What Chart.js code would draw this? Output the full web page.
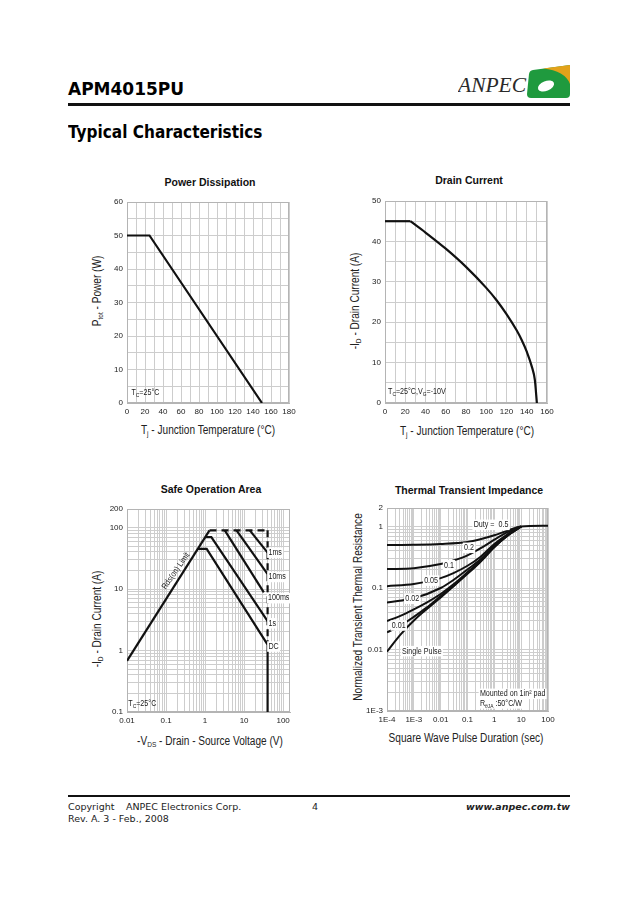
<!DOCTYPE html>
<html lang="en">
<head>
<meta charset="UTF-8">
<title>APM4015PU - Typical Characteristics</title>
<script src="https://cdn.jsdelivr.net/npm/chart.js@4"></script>
<style>
  body { margin: 0; background: #fff; }
  #page { position: relative; width: 638px; height: 903px; overflow: hidden; background: #fff; color: #111; }
  .abs { position: absolute; white-space: nowrap; line-height: 1; }
  .hdr { font-family: "DejaVu Sans", Verdana, sans-serif; font-weight: bold; font-size: 17px; color: #000; transform-origin: 0 0; }
  .rule { position: absolute; left: 68px; width: 502px; background: #111; }
  .foot { font-family: "DejaVu Sans", Verdana, sans-serif; font-size: 9.5px; color: #222; }
  .ctitle { font-family: "Liberation Sans", Arial, sans-serif; font-weight: bold; font-size: 10.5px; transform: translate(-50%, -50%); }
  .atitle, .ytitle { font-family: "Liberation Sans Narrow", "Liberation Sans", Arial, sans-serif; font-size: 12px; color: #222; }
  .atitle { transform: translate(-50%, -50%) scaleX(0.84); }
  .ytitle { transform: translate(-50%, -50%) rotate(-90deg) scaleX(0.84); }
  .atitle sub, .ytitle sub { font-size: 65%; vertical-align: baseline; position: relative; top: 0.25em; }
  canvas { position: absolute; }
</style>
</head>
<body>
<div id="page">
  <!-- header -->
  <div class="abs hdr" style="left:68px;top:81px">APM4015PU</div>
  <svg class="abs" style="left:458px;top:64px" width="112" height="36" viewBox="0 0 112 36">
    <text x="0" y="28" font-family="Liberation Serif, Times New Roman, serif" font-style="italic" font-size="21.5" fill="#2a2a2a">ANPEC</text>
    <g transform="translate(69,1)">
      <path d="M6,5 L43,0 L43,29 Q43,33 39,33 L4,33 Q0,33 0,29 L2,9 Q2.5,5.5 6,5 Z" fill="#1f9a3e"/>
      <path d="M16,3.6 L43,0 L43,19 Q38,6 16,3.6 Z" fill="#e3a21a"/>
      <ellipse cx="19" cy="21" rx="8.5" ry="4.8" transform="rotate(-22 19 21)" fill="#fff"/>
    </g>
  </svg>
  <div class="rule" style="top:103px;height:3px"></div>
  <div class="abs hdr" style="left:68px;top:124px;transform:scaleX(0.9)">Typical Characteristics</div>

  <!-- chart titles and axis titles -->
  <div class="abs ctitle" style="left:210px;top:182px">Power Dissipation</div>
  <div class="abs ctitle" style="left:469px;top:180px">Drain Current</div>
  <div class="abs ctitle" style="left:211px;top:489px">Safe Operation Area</div>
  <div class="abs ctitle" style="left:469px;top:490px">Thermal Transient Impedance</div>

  <div class="abs atitle" style="left:208px;top:430px">T<sub>j</sub> - Junction Temperature (°C)</div>
  <div class="abs atitle" style="left:467px;top:431px">T<sub>j</sub> - Junction Temperature (°C)</div>
  <div class="abs atitle" style="left:210px;top:741px">-V<sub>DS</sub> - Drain - Source Voltage (V)</div>
  <div class="abs atitle" style="left:466px;top:738px">Square Wave Pulse Duration (sec)</div>

  <div class="abs ytitle" style="left:97px;top:291px">P<sub>tot</sub> - Power (W)</div>
  <div class="abs ytitle" style="left:355px;top:301px">-I<sub>D</sub> - Drain Current (A)</div>
  <div class="abs ytitle" style="left:97px;top:619px">-I<sub>D</sub> - Drain Current (A)</div>
  <div class="abs ytitle" style="left:358px;top:607px">Normalized Transient Thermal Resistance</div>

  <canvas id="cPower" width="227" height="241" style="left:77px;top:192px"></canvas>
  <canvas id="cDrain" width="227" height="242" style="left:335px;top:191px"></canvas>
  <canvas id="cSoa" width="228" height="243" style="left:77px;top:499px"></canvas>
  <canvas id="cZth" width="226" height="243" style="left:337px;top:498px"></canvas>

  <!-- footer -->
  <div class="rule" style="top:795px;height:2px"></div>
  <div class="abs foot" style="left:68px;top:802px">Copyright</div>
  <div class="abs foot" style="left:126px;top:802px">ANPEC Electronics Corp.</div>
  <div class="abs foot" style="left:312px;top:802px">4</div>
  <div class="abs foot" style="right:68px;top:802px;font-weight:bold;font-style:italic">www.anpec.com.tw</div>
  <div class="abs foot" style="left:68px;top:814px">Rev. A. 3 - Feb., 2008</div>
</div>

<script>
// ---- data ----
// Power dissipation vs junction temperature
const powerTemp = [0, 25, 150];
const powerWatts = [50, 50, 0];
const powerXTicks = [0, 20, 40, 60, 80, 100, 120, 140, 160, 180];
const powerYTicks = [0, 10, 20, 30, 40, 50, 60];

// Drain current vs junction temperature
const drainFlatTemp = [0, 25];
const drainFlatAmps = [45, 45];
const drainTemp = [25, 40, 60, 80, 100, 110, 120, 130, 135, 140, 145, 148, 150];
const drainAmps = [45, 42.2, 38.2, 33.7, 28.5, 25.5, 22, 18, 15.6, 12.7, 9, 5.7, 0];
const drainXTicks = [0, 20, 40, 60, 80, 100, 120, 140, 160];
const drainYTicks = [0, 10, 20, 30, 40, 50];

// Safe operating area (V, A)
const soaRdsV = [0.01, 1.3];        const soaRdsI = [0.68, 90];
const soaDcV = [0.65, 1.1, 40, 40]; const soaDcI = [45, 45, 1.25, 0.1];
const soa1sV = [1.0, 1.45, 40];     const soa1sI = [70, 70, 3.0];
const soa100msV = [3.2, 32];        const soa100msI = [90, 8.8];
const soa10msV = [6.4, 40];         const soa10msI = [90, 17.5];
const soa1msV = [14, 40];           const soa1msI = [90, 39];
const soaLimitV = [1.3, 40];        const soaLimitI = [90, 90];
const soaVmaxV = [40, 40];          const soaVmaxI = [90, 1.25];
const soaXTicks = [0.01, 0.1, 1, 10, 100];
const soaXLabels = ['0.01', '0.1', '1', '10', '100'];
const soaYTicks = [0.1, 1, 10, 100, 200];
const soaYLabels = ['0.1', '1', '10', '100', '200'];

// Thermal transient impedance (s, normalized)
const zthT05 = [1e-4, 1e-3, 0.01, 0.1, 0.3, 1, 3, 10, 100];
const zth05 = [0.5, 0.505, 0.52, 0.56, 0.62, 0.72, 0.85, 1, 1.03];
const zthT02 = [1e-4, 1e-3, 0.01, 0.03, 0.1, 0.3, 1, 3, 10];
const zth02 = [0.203, 0.21, 0.245, 0.28, 0.34, 0.44, 0.61, 0.8, 1];
const zthT01 = [1e-4, 1e-3, 0.01, 0.03, 0.1, 0.3, 1, 3, 10];
const zth01 = [0.107, 0.116, 0.145, 0.175, 0.23, 0.32, 0.52, 0.74, 1];
const zthT005 = [1e-4, 1e-3, 0.01, 0.03, 0.1, 0.3, 1, 3, 10];
const zth005 = [0.058, 0.068, 0.1, 0.135, 0.2, 0.29, 0.49, 0.72, 1];
const zthT002 = [1e-4, 3e-4, 1e-3, 0.003, 0.01, 0.03, 0.1, 0.3, 1, 3, 10];
const zth002 = [0.029, 0.035, 0.045, 0.058, 0.08, 0.115, 0.18, 0.275, 0.475, 0.71, 1];
const zthT001 = [1e-4, 3e-4, 1e-3, 0.003, 0.01, 0.03, 0.1, 0.3, 1, 3, 10];
const zth001 = [0.019, 0.024, 0.034, 0.048, 0.074, 0.108, 0.175, 0.27, 0.47, 0.705, 1];
const zthTsingle = [1e-4, 3e-4, 1.2e-3, 0.01, 0.1, 0.3, 1, 3, 10];
const zthSingle = [0.0092, 0.017, 0.032, 0.07, 0.17, 0.265, 0.46, 0.7, 1];
const zthXTicks = [1e-4, 1e-3, 0.01, 0.1, 1, 10, 100];
const zthXLabels = ['1E-4', '1E-3', '0.01', '0.1', '1', '10', '100'];
const zthYTicks = [1e-3, 0.01, 0.1, 1, 2];
const zthYLabels = ['1E-3', '0.01', '0.1', '1', '2'];

// ---- drawing ----
const GRID = '#cdcdcd', FRAME = '#b4b4b4', INK = '#111';
const SANS = '"Liberation Sans", Arial, sans-serif';
const TICK_FONT = { family: SANS, size: 8 };
const SQUEEZE = 0.84; // the datasheet uses a narrow face

function pts(xs, ys) { return xs.map((x, i) => ({ x: x, y: ys[i] })); }

function line(xs, ys, extra) {
  return Object.assign({
    data: pts(xs, ys), borderColor: INK, borderWidth: 2.2,
    pointRadius: 0, fill: false, tension: 0
  }, extra || {});
}

function zeroPad(s) { s.paddingLeft = 0; s.paddingRight = 0; s.paddingTop = 0; s.paddingBottom = 0; }

function logGrid(min, max) {
  const out = [];
  for (let e = Math.floor(Math.log10(min)); e <= Math.ceil(Math.log10(max)); e++) {
    for (let m = 1; m <= 9; m++) {
      const v = Number((m * Math.pow(10, e)).toPrecision(4));
      if (v >= min * 0.999 && v <= max * 1.001) out.push(v);
    }
  }
  return out;
}

function findLabel(values, labels, v) {
  const i = values.findIndex(t => Math.abs(t - v) / t < 1e-6);
  return i >= 0 ? labels[i] : '';
}

function axis(pos, type, min, max, ticksExtra, extra) {
  return Object.assign({
    type: type, position: pos, min: min, max: max, bounds: 'data',
    grid: { color: GRID, lineWidth: 1, drawTicks: false },
    border: { color: FRAME, width: 1 },
    ticks: Object.assign({ font: TICK_FONT, color: '#222', padding: 4, autoSkip: false, maxRotation: 0, minRotation: 0 }, ticksExtra),
    afterFit: pos === 'left' ? s => { s.width = 50; zeroPad(s); } : s => { s.height = 30; zeroPad(s); }
  }, extra || {});
}

function linAxis(pos, min, max, step, shown) {
  return axis(pos, 'linear', min, max, { stepSize: step, callback: v => shown.includes(v) ? String(v) : '' });
}

function logAxis(pos, min, max, values, labels) {
  const grid = logGrid(min, max);
  return axis(pos, 'logarithmic', min, max,
    { callback: v => findLabel(values, labels, v) },
    { afterBuildTicks: s => { s.ticks = grid.map(v => ({ value: v })); } });
}

function drawRich(ctx, segs, x, y, size, align, bg, rot) {
  ctx.save();
  ctx.translate(x, y);
  if (rot) ctx.rotate(rot * Math.PI / 180);
  ctx.scale(SQUEEZE, 1);
  ctx.textBaseline = 'middle';
  const fontFor = s => (s.sub ? size * 0.68 : size) + 'px ' + SANS;
  const widths = segs.map(s => { ctx.font = fontFor(s); return ctx.measureText(s.t).width; });
  const w = widths.reduce((a, b) => a + b, 0);
  let sx = align === 'center' ? -w / 2 : 0;
  if (bg) { ctx.fillStyle = '#fff'; ctx.fillRect(sx - 1.5, -size * 0.62, w + 3, size * 1.24); }
  ctx.fillStyle = '#1a1a1a';
  segs.forEach((s, i) => {
    ctx.font = fontFor(s);
    ctx.fillText(s.t, sx, s.sub ? size * 0.3 : 0);
    sx += widths[i];
  });
  ctx.restore();
}

function makeNotes(items) {
  return {
    id: 'notes',
    afterDatasetsDraw(chart) {
      const xs = chart.scales.x, ys = chart.scales.y;
      items.forEach(it => drawRich(chart.ctx, it.segs, xs.getPixelForValue(it.x), ys.getPixelForValue(it.y),
        it.size || 8.5, it.align || 'left', it.bg, it.rot || 0));
    }
  };
}

const framePlugin = {
  id: 'frame',
  beforeDatasetsDraw(chart) {
    const a = chart.chartArea, ctx = chart.ctx;
    ctx.save();
    ctx.strokeStyle = FRAME; ctx.lineWidth = 1;
    ctx.strokeRect(Math.round(a.left) + 0.5, Math.round(a.top) + 0.5, Math.round(a.right - a.left) - 1, Math.round(a.bottom - a.top) - 1);
    ctx.restore();
  }
};

function makeChart(id, datasets, xAx, yAx, notes) {
  return new Chart(document.getElementById(id), {
    type: 'line',
    data: { datasets: datasets },
    options: {
      responsive: false, animation: false, devicePixelRatio: 1, events: [],
      layout: { padding: { top: 10, right: 15, left: 0, bottom: 0 } },
      plugins: { legend: { display: false }, tooltip: { enabled: false } },
      scales: { x: xAx, y: yAx }
    },
    plugins: [framePlugin, makeNotes(notes)]
  });
}

const TC = [{ t: 'T' }, { t: 'C', sub: 1 }, { t: '=25°C' }];

makeChart('cPower',
  [line(powerTemp, powerWatts)],
  linAxis('bottom', 0, 180, 10, powerXTicks),
  linAxis('left', 0, 60, 5, powerYTicks),
  [{ x: 5, y: 3.1, segs: TC }]);

makeChart('cDrain',
  [line(drainFlatTemp, drainFlatAmps), line(drainTemp, drainAmps, { cubicInterpolationMode: 'monotone' })],
  linAxis('bottom', 0, 160, 10, drainXTicks),
  linAxis('left', 0, 50, 5, drainYTicks),
  [{ x: 3, y: 2.8, segs: [{ t: 'T' }, { t: 'C', sub: 1 }, { t: '=25°C,V' }, { t: 'G', sub: 1 }, { t: '=-10V' }] }]);

makeChart('cSoa',
  [
    line(soaRdsV, soaRdsI), line(soaDcV, soaDcI), line(soa1sV, soa1sI),
    line(soa100msV, soa100msI), line(soa10msV, soa10msI), line(soa1msV, soa1msI),
    line(soaLimitV, soaLimitI, { borderDash: [7, 5] }),
    line(soaVmaxV, soaVmaxI, { borderDash: [7, 4] })
  ],
  logAxis('bottom', 0.01, 150, soaXTicks, soaXLabels),
  logAxis('left', 0.1, 200, soaYTicks, soaYLabels),
  [
    { x: 42, y: 39, segs: [{ t: '1ms' }], bg: true },
    { x: 42, y: 15.7, segs: [{ t: '10ms' }], bg: true },
    { x: 41, y: 7.1, segs: [{ t: '100ms' }], bg: true },
    { x: 42, y: 2.77, segs: [{ t: '1s' }], bg: true },
    { x: 42, y: 1.16, segs: [{ t: 'DC' }], bg: true },
    { x: 0.179, y: 19.7, segs: [{ t: 'Rds(on) Limit' }], align: 'center', rot: -55 },
    { x: 0.0108, y: 0.135, segs: TC }
  ]);

const zthOpts = { cubicInterpolationMode: 'monotone', borderWidth: 2 };
makeChart('cZth',
  [
    line(zthT05, zth05, zthOpts), line(zthT02, zth02, zthOpts), line(zthT01, zth01, zthOpts),
    line(zthT005, zth005, zthOpts), line(zthT002, zth002, zthOpts), line(zthT001, zth001, zthOpts),
    line(zthTsingle, zthSingle, zthOpts)
  ],
  logAxis('bottom', 1e-4, 100, zthXTicks, zthXLabels),
  logAxis('left', 1e-3, 2, zthYTicks, zthYLabels),
  [
    { x: 0.17, y: 1.065, segs: [{ t: 'Duty =  0.5' }], bg: true },
    { x: 0.114, y: 0.45, segs: [{ t: '0.2' }], align: 'center', bg: true },
    { x: 0.0205, y: 0.235, segs: [{ t: '0.1' }], align: 'center', bg: true },
    { x: 0.0044, y: 0.132, segs: [{ t: '0.05' }], align: 'center', bg: true },
    { x: 8.7e-4, y: 0.067, segs: [{ t: '0.02' }], align: 'center', bg: true },
    { x: 2.75e-4, y: 0.0246, segs: [{ t: '0.01' }], align: 'center', bg: true },
    { x: 3.6e-4, y: 0.0094, segs: [{ t: 'Single Pulse' }], bg: true },
    { x: 0.29, y: 0.0019, segs: [{ t: 'Mounted on 1in² pad' }], bg: true },
    { x: 0.29, y: 0.00133, segs: [{ t: 'R' }, { t: 'θJA', sub: 1 }, { t: ' :50°C/W' }], bg: true }
  ]);
</script>
</body>
</html>
